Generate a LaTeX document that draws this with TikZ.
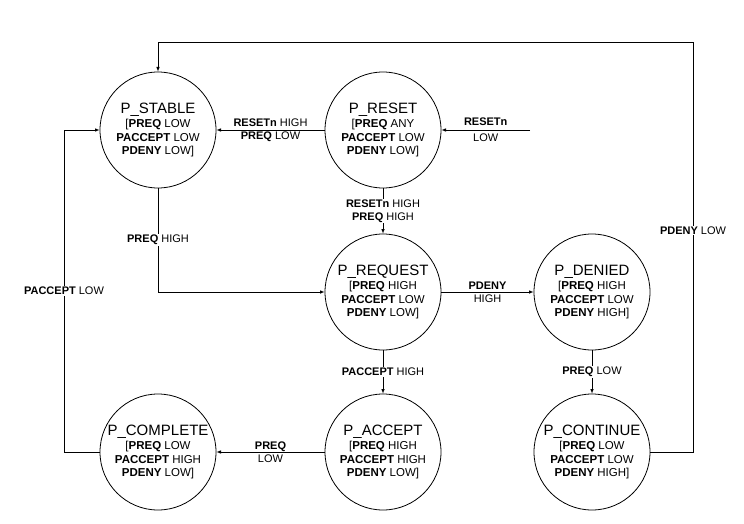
\documentclass[tikz,border=0pt]{standalone}
\usepackage{fontspec}
\setmainfont{Liberation Sans}
\usetikzlibrary{arrows}
\tikzstyle{state} = [circle, minimum size=116pt, inner sep=0pt, draw=black, thick, align=center, font=\fontsize{11.5}{13.5}\selectfont]
\tikzstyle{cond} = [align=center, font=\fontsize{11}{13}\selectfont, inner sep=1pt]
\tikzstyle{arrow} = [semithick,->,>=latex]
\newcommand{\stname}[1]{{\fontsize{15}{15}\selectfont #1}\\[1pt]}

\begin{document}
\begin{tikzpicture}[x=1pt, y=-1pt]
\useasboundingbox (0,0) rectangle (744,524);
\node (stable) [state] at (158,130) {\stname{P\_STABLE}[\textbf{PREQ} LOW\\\textbf{PACCEPT} LOW\\\textbf{PDENY} LOW]};
\node (reset) [state] at (383,130) {\stname{P\_RESET}[\textbf{PREQ} ANY\\\textbf{PACCEPT} LOW\\\textbf{PDENY} LOW]};
\node (request) [state] at (383,292) {\stname{P\_REQUEST}[\textbf{PREQ} HIGH\\\textbf{PACCEPT} LOW\\\textbf{PDENY} LOW]};
\node (denied) [state] at (592,292) {\stname{P\_DENIED}[\textbf{PREQ} HIGH\\\textbf{PACCEPT} LOW\\\textbf{PDENY} HIGH]};
\node (accept) [state] at (383,452) {\stname{P\_ACCEPT}[\textbf{PREQ} HIGH\\\textbf{PACCEPT} HIGH\\\textbf{PDENY} LOW]};
\node (complete) [state] at (158,452) {\stname{P\_COMPLETE}[\textbf{PREQ} LOW\\\textbf{PACCEPT} HIGH\\\textbf{PDENY} LOW]};
\node (continue) [state] at (592,452) {\stname{P\_CONTINUE}[\textbf{PREQ} LOW\\\textbf{PACCEPT} LOW\\\textbf{PDENY} HIGH]};

\coordinate (rstin) at (530,130);
\coordinate (toprt) at (693,42);
\coordinate (toplt) at (158,42);
\coordinate (lftlo) at (64,452);
\coordinate (lfthi) at (64,130);

\draw [arrow] (rstin) -- node [cond, pos=0.5] {\textbf{RESETn}\\[3pt]LOW} (reset);
\draw [arrow] (reset) -- node [cond] {\textbf{RESETn} HIGH\\\textbf{PREQ} LOW} (stable);
\draw [arrow] (reset) -- node [cond, fill=white] {\textbf{RESETn} HIGH\\\textbf{PREQ} HIGH} (request);
\draw [arrow] (stable) |- node [cond, pos=0.25, fill=white] {\textbf{PREQ} HIGH} (request);
\draw [arrow] (request) -- node [cond] {\textbf{PDENY}\\HIGH} (denied);
\draw [arrow] (denied) -- node [cond, fill=white] {\textbf{PREQ} LOW} (continue);
\draw [arrow] (request) -- node [cond, fill=white] {\textbf{PACCEPT} HIGH} (accept);
\draw [arrow] (accept) -- node [cond] {\textbf{PREQ}\\LOW} (complete);
\draw [arrow] (continue.east) -| node [pos=0.77, cond, fill=white] {\textbf{PDENY} LOW} (toprt) -- (toplt) -- (stable);
\draw [arrow] (complete.west) -- (lftlo) -- node [cond, fill=white] {\textbf{PACCEPT} LOW} (lfthi) -- (stable);
\end{tikzpicture}
\end{document}
